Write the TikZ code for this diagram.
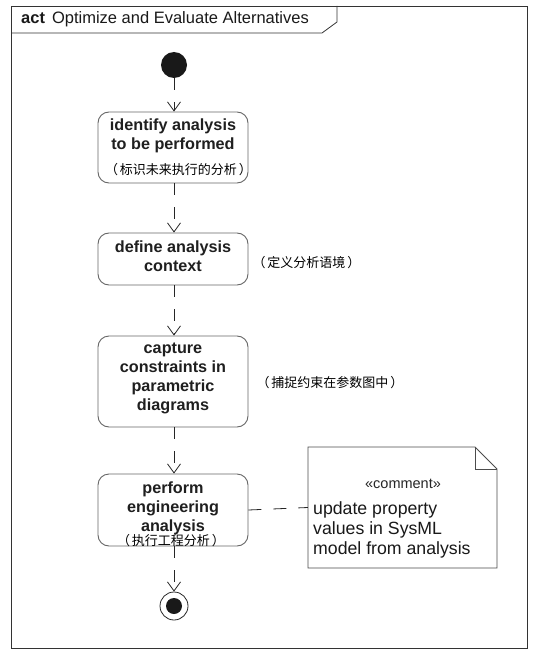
\documentclass[tikz,border=0pt]{standalone}
\usepackage{fontspec}
\setmainfont{Liberation Sans}
\newfontfamily\cjk{Noto Sans CJK SC}
\usetikzlibrary{arrows.meta}
\newcommand{\lp}{（\hspace{2pt}}
\newcommand{\rp}{\hspace{2pt}）}
\begin{document}
\begin{tikzpicture}[x=1pt,y=-1pt,
  actbox/.style={draw=black!60, line width=0.9pt, rounded corners=11pt, minimum width=150pt, inner sep=0pt, fill=white},
  en/.style={font=\fontsize{16.2}{19}\selectfont\bfseries, text=black!88, align=center, inner sep=0pt},
  zh/.style={font=\cjk\fontsize{13}{14}\selectfont, inner sep=0pt},
  flow/.style={draw=black!85, line width=0.8pt, dash pattern=on 12pt off 12pt, -{Straight Barb[length=9pt,width=13pt]}},
  anchorline/.style={draw=black!85, line width=0.8pt, dash pattern=on 13pt off 12pt},
]
\useasboundingbox (0,0) rectangle (534,658);
% frame
\draw[black!80, line width=0.8pt] (11,6) rectangle (527,648);
\draw[black!80, line width=0.8pt] (11,33) -- (322,33) -- (337,22) -- (337,6);
\node[anchor=west, inner sep=0pt, font=\fontsize{16.5}{18}\selectfont, text=black!90] (title) at (21,19)
  {\textbf{act}\hspace{7pt}Optimize and Evaluate Alternatives};

% initial / final
\node[circle, fill=black!90, minimum size=26pt, inner sep=0pt] (init) at (174,65) {};
\node[circle, draw=black!85, line width=0.8pt, minimum size=28pt, inner sep=0pt] (fin) at (174,606) {};
\node[circle, fill=black!90, minimum size=16pt, inner sep=0pt] (finin) at (174,606) {};

% actions
\node[actbox, minimum height=71pt] (b1) at (173,147.5) {};
\node[actbox, minimum height=52pt] (b2) at (173,259) {};
\node[actbox, minimum height=91pt] (b3) at (173,381.5) {};
\node[actbox, minimum height=72pt] (b4) at (173,510) {};

\node[en] (t1) at (173,135.5) {identify analysis\\ to be performed};
\node[zh] (z1) at (178.5,170) {\lp 标识未来执行的分析\rp};
\node[en] (t2) at (173,256.5) {define analysis\\context};
\node[zh] (z2) at (306.5,263) {\lp 定义分析语境\rp};
\node[en] (t3) at (173,378.5) {capture\\constraints in\\parametric\\diagrams};
\node[zh] (z3) at (330,383) {\lp 捕捉约束在参数图中\rp};
\node[en] (t4) at (173,508) {perform\\engineering\\analysis};
\node[zh] (z4) at (171,541) {\lp 执行工程分析\rp};

% comment note
\node[minimum width=189pt, minimum height=121pt, inner sep=0pt] (note) at (402.5,507.5) {};
\draw[black!70, line width=0.8pt, fill=white] (308,447) -- (475,447) -- (497,469) -- (497,568) -- (308,568) -- cycle;
\draw[black!70, line width=0.8pt] (475,447) -- (475,469) -- (497,469);
\node[inner sep=0pt, font=\fontsize{14.5}{17}\selectfont, text=black!85] (st) at (403,484) {«comment»};
\node[anchor=west, align=left, inner sep=0pt, font=\fontsize{17.7}{20}\selectfont, text=black!90] (ct) at (313,530)
  {update property\\values in SysML\\model from analysis};

% flows
\draw[flow] (init) -- (b1.north -| init);
\draw[flow] (b1.south -| init) -- (b2.north -| init);
\draw[flow] (b2.south -| init) -- (b3.north -| init);
\draw[flow] (b3.south -| init) -- (b4.north -| init);
\draw[flow] (b4.south -| init) -- (fin);
\draw[anchorline] (b4.east) -- (note.west);
\end{tikzpicture}
\end{document}
